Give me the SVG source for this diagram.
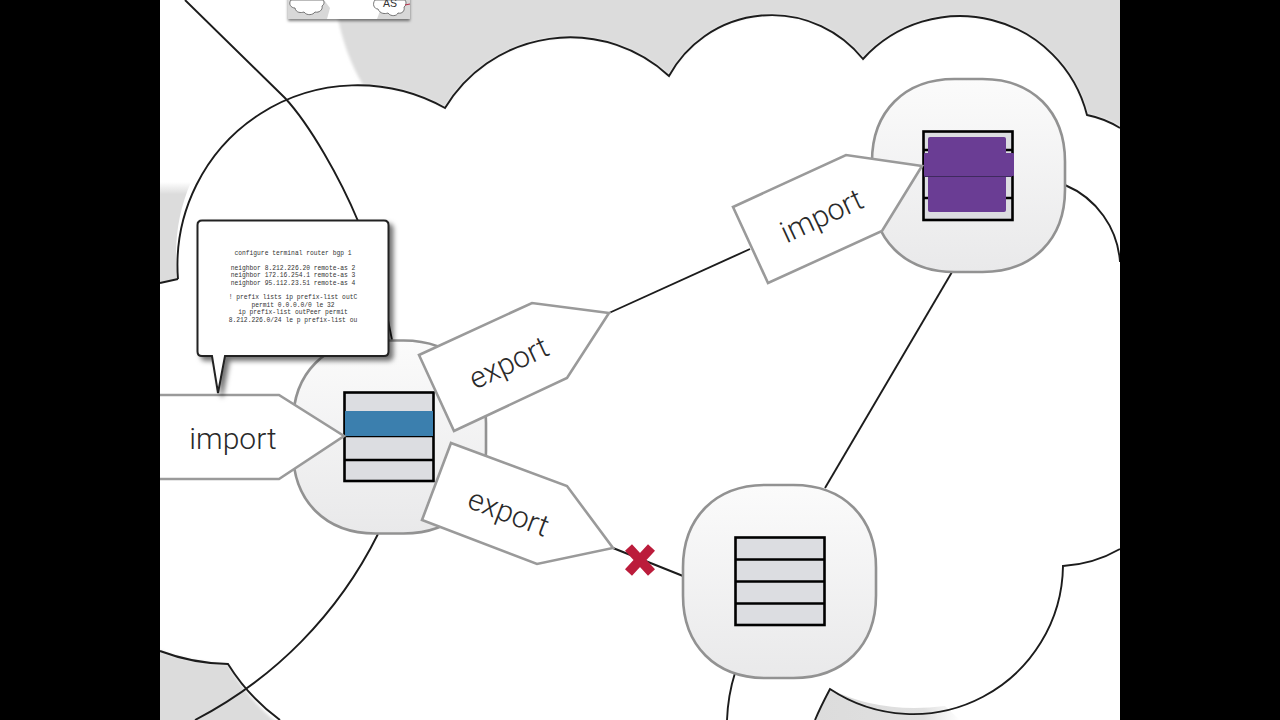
<svg xmlns="http://www.w3.org/2000/svg" xmlns:xlink="http://www.w3.org/1999/xlink" width="1280" height="720" viewBox="0 0 1280 720">
<style>
.grey{fill:#dcdcdc;filter:url(#soft)}
.line{fill:none;stroke:#1c1c1c;stroke-width:1.9}
.node{fill:url(#nodeFill);stroke:#929292;stroke-width:2.6}
.tbl{fill:#dcdde1;stroke:#000;stroke-width:2.6}
.row{stroke:#000;stroke-width:2.6;fill:none}
.tag{fill:#fff;stroke:#9a9a9a;stroke-width:2.6;stroke-linejoin:miter}
.lbl{font-family:"Roboto","Liberation Sans",sans-serif;font-weight:300;font-size:30px;fill:#2a2a2a;text-anchor:middle}
.cfg{font-family:"Liberation Mono",monospace;font-size:6.3px;fill:#333;text-anchor:middle}
.mini{fill:#fff;stroke:#555;stroke-width:.8}
.purple{fill:#6a3d94;filter:url(#fine)}
</style>
<defs>
<linearGradient id="nodeFill" x1="0" y1="0" x2="0" y2="1"><stop offset="0" stop-color="#fbfbfb"/><stop offset="1" stop-color="#e9e9ea"/></linearGradient>
<linearGradient id="fade" gradientUnits="userSpaceOnUse" x1="815" y1="0" x2="960" y2="0"><stop offset="0" stop-color="#dcdcdc"/><stop offset=".75" stop-color="#e0e0e0"/><stop offset="1" stop-color="#fff"/></linearGradient>
<linearGradient id="fadeTop" x1="0" y1="0" x2="0" y2="1"><stop offset="0" stop-color="#fff"/><stop offset=".12" stop-color="#dcdcdc"/><stop offset="1" stop-color="#dcdcdc"/></linearGradient>
<filter id="soft" x="-5%" y="-5%" width="110%" height="110%"><feGaussianBlur stdDeviation="1.6"/></filter>
<filter id="fine" x="-5%" y="-5%" width="110%" height="110%"><feGaussianBlur stdDeviation=".6"/></filter>
<filter id="shadow" x="-10%" y="-10%" width="125%" height="125%"><feDropShadow dx="4" dy="4" stdDeviation="2.5" flood-color="#000" flood-opacity=".55"/></filter>
<filter id="shadow2" x="-10%" y="-10%" width="120%" height="150%"><feDropShadow dx="0" dy="2" stdDeviation="1.500" flood-color="#000" flood-opacity=".5"/></filter>
<path id="sq" d="M-14,-96.500H14C64,-96.500 96.500,-64 96.500,-14V14C96.500,64 64,96.500 14,96.500H-14C-64,96.500 -96.500,64 -96.500,14V-14C-96.500,-64 -64,-96.500 -14,-96.500Z"/>
</defs>
<rect width="1280" height="720" fill="#fff"/>
<g id="background">
<path class="grey" d="M337,14Q345,55 363,85A180,180 0 0 1 445,108A146,146 0 0 1 669,76A117,117 0 0 1 863,59A131,131 0 0 1 1087,115A100,100 0 0 1 1125,130V-5H337Z"/>
<path d="M155,182H191A180,180 0 0 0 178,279L155,284Z" fill="url(#fadeTop)"/>
<path class="grey" d="M155,649A200,200 0 0 0 228,664A200,200 0 0 0 280,725H155Z"/>
<path d="M830,689Q820,708 815,720H960L945,706Q880,714 830,689Z" fill="url(#fade)"/>
</g>
<g id="connectors">
<path class="line" d="M178,279A180,180 0 0 1 445,108A146,146 0 0 1 669,76A117,117 0 0 1 863,59A131,131 0 0 1 1087,115A100,100 0 0 1 1120,128"/>
<path class="line" d="M185,0L285,98C310,125 340,178 358,221Q380,275 392,340"/>
<path class="line" d="M160,283L178,279"/>
<path class="line" d="M1065,185A90,90 0 0 1 1120,262"/>
<path class="line" d="M1120,549A130,130 0 0 1 1063,566A150,150 0 0 1 830,689Q820,708 815,720"/>
<path class="line" d="M160,651A200,200 0 0 0 228,664A200,200 0 0 0 280,720"/>
<path class="line" d="M378,534A420,420 0 0 1 195,720"/>
<path class="line" d="M735,673Q728,695 727,720"/>
<path class="line" d="M609,313L750,249"/>
<path class="line" d="M613,548L683,576"/>
<path class="line" d="M952,272L825,488"/>
</g>
<g id="thumbnail">
<rect x="288" y="-4" width="122" height="23" fill="#fff" filter="url(#shadow2)"/>
<path d="M288,0H324L330,8L327,19H288Z" fill="#d8d8d8"/>
<path d="M377,19L384,0H410V19Z" fill="#d8d8d8"/>
<path class="mini" d="M291,0C288,4 291,8 295,8C296,13 301,13 304,12C307,16 313,15 315,12C319,13 323,10 322,6C325,4 324,1 323,0Z"/>
<path class="mini" d="M375,0C372,4 374,9 378,9C380,14 385,14 388,13C391,17 397,16 398,13C402,14 405,11 404,7C407,5 406,1 405,0Z"/>
<text x="390" y="7" font-family="Liberation Sans,sans-serif" font-size="10.500" fill="#333" text-anchor="middle">AS</text>
<path d="M405,5L410,4" stroke="#b5304a" stroke-width="1.200"/>
</g>
<g id="node-left">
<use xlink:href="#sq" href="#sq" class="node" transform="translate(389.500,437)"/>
<rect class="tbl" x="344.500" y="392.500" width="89" height="88.500"/>
<path class="row" d="M344.500,436H433.500M344.500,460H433.500"/>
<rect x="345" y="411" width="88" height="25" fill="#3b7fae"/>
</g>
<g id="node-top-right">
<use xlink:href="#sq" href="#sq" class="node" transform="translate(968.500,175.500)"/>
<rect class="tbl" x="923.500" y="131.500" width="89" height="88.500"/>
<path class="row" d="M923.500,150H1012.500M923.500,198H1012.500"/>
<rect class="purple" x="928" y="137" width="78" height="75" rx="2"/>
<rect class="purple" x="924" y="153" width="90" height="23" rx="1"/>
<path d="M924,176.500H1012" stroke="#3f2a5e" stroke-width="1.200"/>
</g>
<g id="node-bottom">
<use xlink:href="#sq" href="#sq" class="node" transform="translate(779.500,581.500)"/>
<rect class="tbl" x="735.500" y="537.500" width="89" height="87.500"/>
<path class="row" d="M735.500,559.500H824.500M735.500,581.500H824.500M735.500,603.500H824.500"/>
</g>
<g id="tag-import-left">
<path class="tag" d="M155,395H279L344,436L279,479H155Z"/>
<text class="lbl" x="233" y="449">import</text>
</g>
<g id="tag-export-upper">
<path class="tag" d="M419,355L532,303L609,313L567,378L454,431Z"/>
<text class="lbl" transform="translate(513,372) rotate(-25)">export</text>
</g>
<g id="tag-export-lower">
<path class="tag" d="M451,443L567,486L613,548L537,564L422,520Z"/>
<text class="lbl" transform="translate(505,522) rotate(21)">export</text>
</g>
<g id="tag-import-right">
<path class="tag" d="M733,207L846,155L922,166L882,231L768,283Z"/>
<text class="lbl" transform="translate(826,225) rotate(-25)">import</text>
</g>
<g id="blocked">
<path d="M628.500,547.500L651.500,572.500M651.500,547.500L628.500,572.500" stroke="#bb1c3b" stroke-width="9.500" fill="none"/>
</g>
<g id="callout">
<path d="M202,220.500H384Q388.500,220.500 388.500,225V351.500Q388.500,356 384,356H225L218,393L212,356H202Q197.500,356 197.500,351.500V225Q197.500,220.500 202,220.500Z" fill="#fff" stroke="#222" stroke-width="2" filter="url(#shadow)"/>
<text class="cfg" x="293" y="255">configure terminal router bgp 1</text>
<text class="cfg" x="293" y="269.500">neighbor 8.212.226.20 remote-as 2</text>
<text class="cfg" x="293" y="277">neighbor 172.16.254.1 remote-as 3</text>
<text class="cfg" x="293" y="284.500">neighbor 95.112.23.51 remote-as 4</text>
<text class="cfg" x="293" y="299">! prefix lists ip prefix-list outC</text>
<text class="cfg" x="293" y="306.500">permit 0.0.0.0/0 le 32</text>
<text class="cfg" x="293" y="314">ip prefix-list outPeer permit</text>
<text class="cfg" x="293" y="322">8.212.226.0/24 le p prefix-list ou</text>
</g>
<g id="letterbox">
<rect x="0" y="0" width="160" height="720" fill="#000"/>
<rect x="1120" y="0" width="160" height="720" fill="#000"/>
</g>
</svg>
